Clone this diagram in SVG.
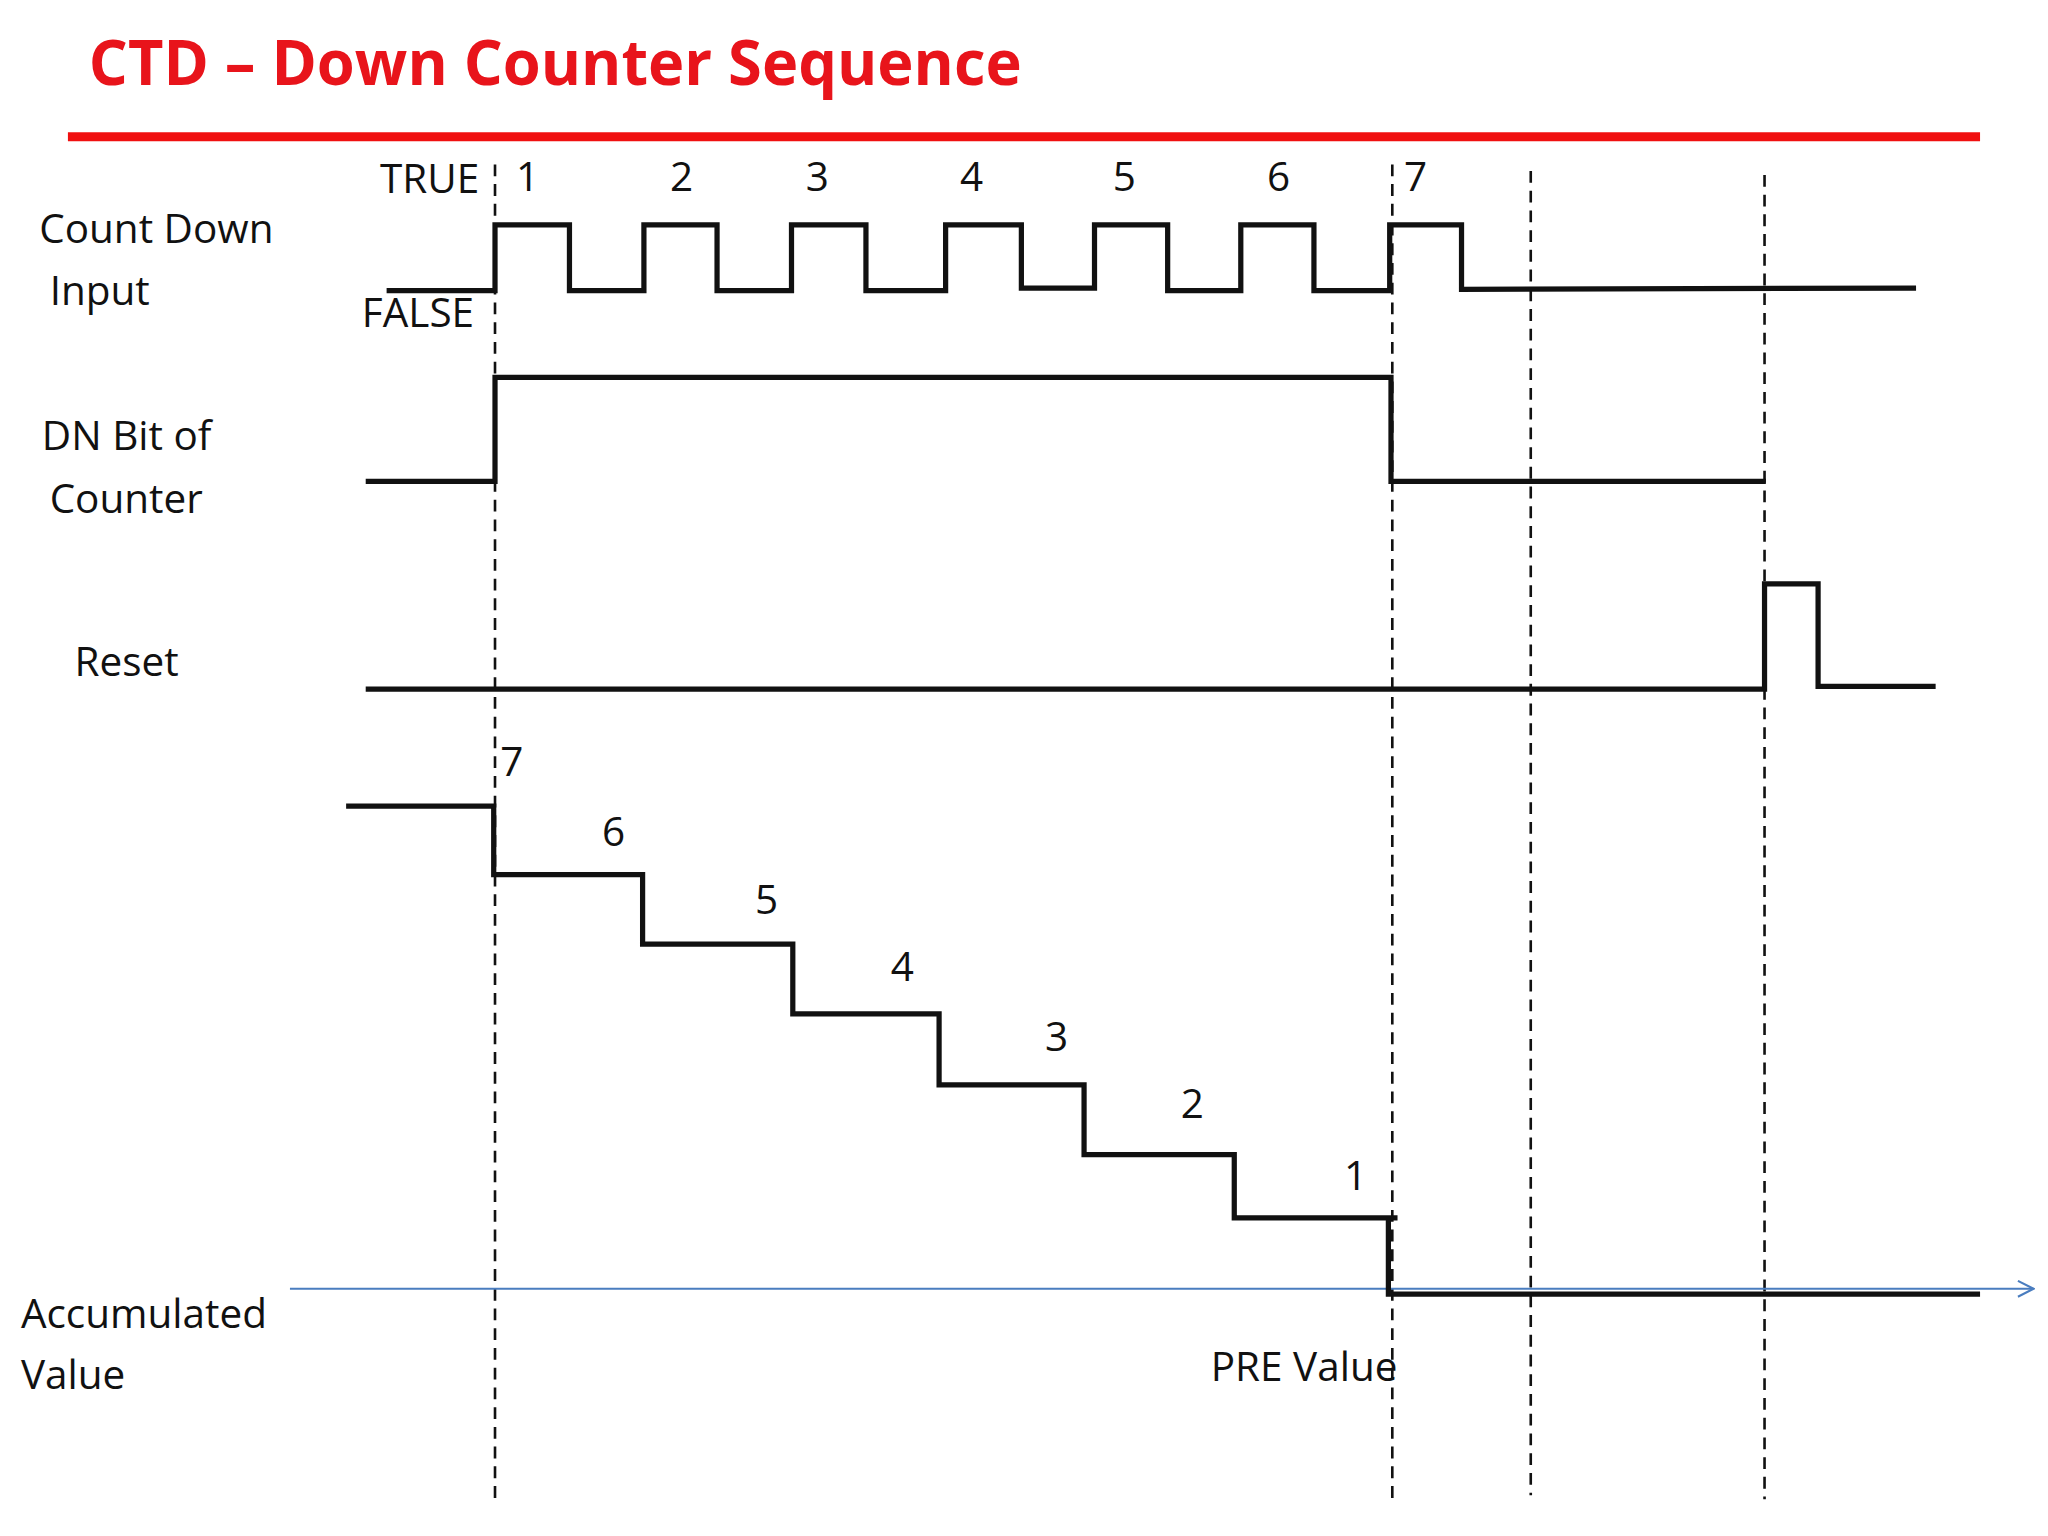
<svg xmlns="http://www.w3.org/2000/svg" width="2048" height="1536" viewBox="0 0 2048 1536">
<style>
.t{font-family:"Open Sans","Liberation Sans",sans-serif;font-size:31px;fill:#111}
.w{fill:none;stroke:#111;stroke-width:4}
.d{fill:none;stroke:#111;stroke-width:2;stroke-dasharray:9 6}
</style>
<defs><marker id="ar" markerWidth="14" markerHeight="14" refX="13" refY="7" orient="auto" markerUnits="userSpaceOnUse"><path d="M1,1 L13,7 L1,13" fill="none" stroke="#4a7dbf" stroke-width="1.6"/></marker></defs>
<rect width="2048" height="1536" fill="#fff"/>
<g transform="scale(1.3061,1.3151)">
<g id="title"><text x="68" y="65" font-family="'Open Sans','Liberation Sans',sans-serif" font-weight="bold" font-size="47" fill="#e8141b">CTD – Down Counter Sequence</text>
<line x1="52" y1="104" x2="1516" y2="104" stroke="#f01010" stroke-width="7"/></g>
<g id="connectors">
<path class="d" d="M379,125V1140M1066,125V1140M1172,130V1137M1351,133V1140"/>
<line x1="222" y1="980" x2="1557" y2="980" stroke="#4a7dbf" stroke-width="1.6" marker-end="url(#ar)"/>
</g>
<g id="count-down">
<text class="t" x="30" y="185">Count Down</text><text class="t" x="38" y="232">Input</text>
<path class="w" d="M296,221H379V171H436V221H493V171H549V221H606V171H663V221H724V171H782V219H838V171H894V221H950V171H1006V221H1064V171H1119V220L1467,219"/>
<text class="t" x="291" y="147">TRUE</text><text class="t" x="277" y="249">FALSE</text>
<text class="t" x="395" y="145">1</text><text class="t" x="513" y="145">2</text><text class="t" x="617" y="145">3</text><text class="t" x="735" y="145">4</text><text class="t" x="852" y="145">5</text><text class="t" x="970" y="145">6</text><text class="t" x="1075" y="145">7</text>
</g>
<g id="dn-bit">
<text class="t" x="32" y="342">DN Bit of</text><text class="t" x="38" y="390">Counter</text>
<path class="w" d="M280,366H379V287H1065V366H1352"/>
</g>
<g id="reset">
<text class="t" x="57" y="514">Reset</text>
<path class="w" d="M280,524H1351V444H1392V522H1482"/>
</g>
<g id="accumulated">
<text class="t" x="16" y="1010">Accumulated</text><text class="t" x="16" y="1056">Value</text>
<path class="w" d="M265,613H378V665H492V718H607V771H719V825H830V878H945V926H1070M1063,926V984H1516"/>
<text class="t" x="383" y="590">7</text><text class="t" x="461" y="643">6</text><text class="t" x="578" y="695">5</text><text class="t" x="682" y="746">4</text><text class="t" x="800" y="799">3</text><text class="t" x="904" y="850">2</text><text class="t" x="1029" y="905">1</text>
<text class="t" x="927" y="1050">PRE Value</text>
</g>
</g>
</svg>
